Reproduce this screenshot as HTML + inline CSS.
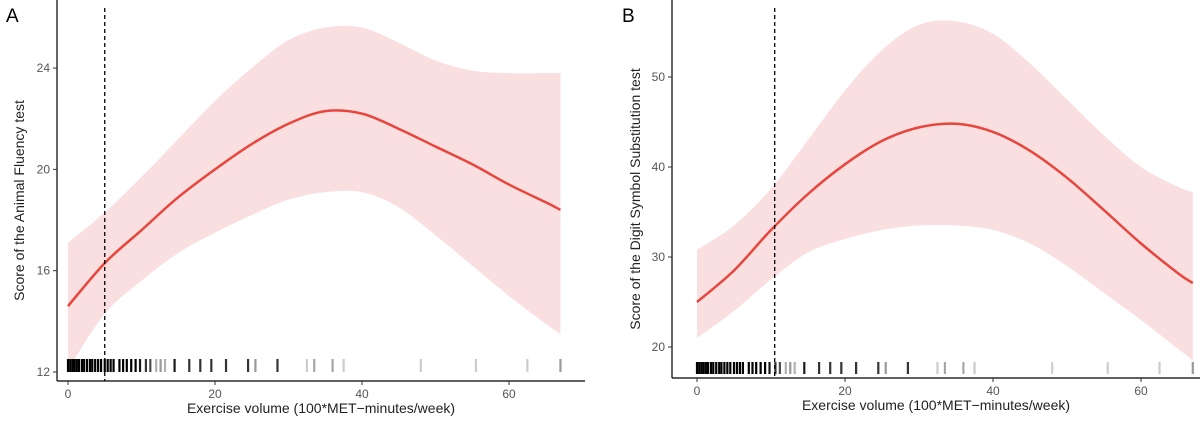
<!DOCTYPE html>
<html><head><meta charset="utf-8"><style>
body{margin:0;background:#fff;font-family:"Liberation Sans",sans-serif}
svg text{font-family:"Liberation Sans",sans-serif}
</style></head><body>
<svg id="c" width="1200" height="418"></svg>
<script>
const xs=[0,5,10,15,20,25,30,35,40,45,50,55,60,65,67];
const fitA=[14.6,16.3,17.6,18.9,20.0,21.0,21.8,22.3,22.2,21.6,20.9,20.2,19.4,18.7,18.4];
const upA=[17.1,18.3,19.7,21.2,22.7,24.0,25.1,25.6,25.6,25.0,24.3,23.9,23.8,23.8,23.8];
const loA=[12.1,14.3,15.6,16.7,17.5,18.2,18.8,19.1,19.1,18.5,17.4,16.2,15.0,13.9,13.5];
const fitB=[25,28.5,33,37,40.3,42.9,44.4,44.8,43.9,41.8,38.8,35.2,31.5,28.2,27.1];
const upB=[30.8,33.5,37.6,43,48.5,53,55.8,56.2,54.8,51.5,47.5,43.5,40,37.8,37.2];
const loB=[21,24,27.5,30.5,32,33,33.5,33.5,33,31.5,29,26,23,19.8,18.5];
const rug=[0,0.3,0.6,0.9,1.2,1.5,1.9,2.2,2.6,3,3.3,3.7,4.1,4.5,5,5.4,5.8,6.2,7,7.5,8,8.6,9.2,9.8,10.6,11.2,12,12.6,13.2,14.5,16.5,18,19.5,21.5,24.5,25.5,28.5,32.5,33.5,36,37.5,48,55.5,62.5,67];
const rugOp=[1,1,1,1,1,1,1,1,1,1,1,1,1,1,1,1,1,1,1,1,1,1,1,0.9,0.8,0.7,0.3,0.4,0.3,0.9,0.8,0.8,0.8,0.8,0.8,0.4,0.8,0.2,0.35,0.35,0.2,0.2,0.2,0.2,0.4];
const xTicks=[0,20,40,60];
const yTicksA=[12,16,20,24];
const yTicksB=[20,30,40,50];
const NS="http://www.w3.org/2000/svg";
const svg=document.getElementById('c');
function el(t,a,p){const e=document.createElementNS(NS,t);for(const k in a)e.setAttribute(k,a[k]);(p||svg).appendChild(e);return e;}
function spline(pts){let d="M"+pts[0][0]+","+pts[0][1];for(let i=0;i<pts.length-1;i++){const p0=pts[Math.max(0,i-1)],p1=pts[i],p2=pts[i+1],p3=pts[Math.min(pts.length-1,i+2)];const c1=[p1[0]+(p2[0]-p0[0])/6,p1[1]+(p2[1]-p0[1])/6],c2=[p2[0]-(p3[0]-p1[0])/6,p2[1]-(p3[1]-p1[1])/6];d+=`C${c1[0]},${c1[1]} ${c2[0]},${c2[1]} ${p2[0]},${p2[1]}`;}return d;}
function panel(o){
  const g=el('g',{});
  
  
  const X=v=>o.x0+v*o.kx, Y=v=>o.y0-(v-o.vmin)*o.ky;
  const up=xs.map((x,i)=>[X(x),Y(o.up[i])]), lo=xs.map((x,i)=>[X(x),Y(o.lo[i])]).reverse();
  const band=el('path',{d:spline(up)+"L"+spline(lo).slice(1)+"Z",fill:"#fadfe1"},g);
  
  
  rug.forEach((r,i)=>{const l=el('line',{x1:X(r),x2:X(r),y1:o.rugTop,y2:o.rugBot,stroke:"#000","stroke-opacity":rugOp[i],"stroke-width":2.2},g);
    
    });
  const fit=el('path',{d:spline(xs.map((x,i)=>[X(x),Y(o.fit[i])])),fill:"none",stroke:"#e8453c","stroke-width":2.5},g);
  
  
  const dl=el('line',{x1:X(o.cut),x2:X(o.cut),y1:8,y2:o.axY,stroke:"#000","stroke-width":1.3,"stroke-dasharray":"4,3"},g);
  
  
  el('line',{x1:o.axX,x2:o.axX,y1:0,y2:o.axY,stroke:"#000","stroke-width":1.2},g);
  el('line',{x1:o.axX,x2:o.axR,y1:o.axY,y2:o.axY,stroke:"#000","stroke-width":1.2},g);
  xTicks.forEach(t=>{el('line',{x1:X(t),x2:X(t),y1:o.axY,y2:o.axY+4,stroke:"#333"},g);
    const tx=el('text',{x:X(t),y:o.axY+17,"text-anchor":"middle","font-size":12,fill:"#555"},g);tx.textContent=t;
    
    });
  o.yt.forEach(t=>{el('line',{x1:o.axX-4,x2:o.axX,y1:Y(t),y2:Y(t),stroke:"#333"},g);
    const tx=el('text',{x:o.axX-7,y:Y(t)+4,"text-anchor":"end","font-size":12,fill:"#555"},g);tx.textContent=t;
    
    });
  const xt=el('text',{x:(o.axX+o.axR)/2,y:o.axY+32,"text-anchor":"middle","font-size":14,fill:"#222"},g);xt.textContent="Exercise volume (100*MET\u2212minutes/week)";
  
  
  const yt=el('text',{x:0,y:0,"text-anchor":"middle","font-size":14,fill:"#222",transform:`translate(${o.ytx},${o.axY/2+10}) rotate(-90)`},g);yt.textContent=o.ytitle;
  
  
  const lb=el('text',{x:o.lx,y:22,"font-size":19,fill:"#000"},g);lb.textContent=o.label;
  
  
}
panel({name:'panel-a',x0:68,kx:7.35,y0:372,vmin:12,ky:25.33,fit:fitA,up:upA,lo:loA,cut:5,yt:yTicksA,axX:57,axR:585,axY:381,rugTop:359,rugBot:372,ytx:24,ytitle:"Score of the Animal Fluency test",label:"A",lx:6});
panel({name:'panel-b',x0:697,kx:7.4,y0:347,vmin:20,ky:9.0,fit:fitB,up:upB,lo:loB,cut:10.5,yt:yTicksB,axX:672,axR:1200,axY:378,rugTop:362,rugBot:374,ytx:640,ytitle:"Score of the Digit Symbol Substitution test",label:"B",lx:622});
</script>
</body></html>
